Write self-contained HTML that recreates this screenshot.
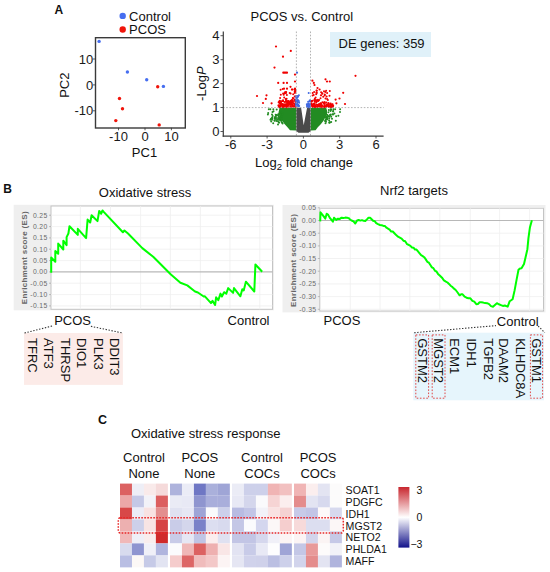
<!DOCTYPE html>
<html><head><meta charset="utf-8"><style>
html,body{margin:0;padding:0;background:#fff;}
body{width:550px;height:572px;overflow:hidden;}
svg{display:block;font-family:"Liberation Sans",sans-serif;}
</style></head><body>
<svg width="550" height="572" viewBox="0 0 550 572" font-family="Liberation Sans, sans-serif" fill="#111">
<text x="54.5" y="13.6" font-size="12" font-weight="bold">A</text>
<circle cx="122.7" cy="15.9" r="3.2" fill="#466ef0"/>
<circle cx="122.7" cy="29.5" r="3.2" fill="#f0140a"/>
<text x="129.1" y="20.6" font-size="13">Control</text>
<text x="129.1" y="34.1" font-size="13">PCOS</text>
<rect x="95.5" y="37.7" width="89.8" height="90.3" fill="none" stroke="#3a3a3a" stroke-width="1.4"/>
<line x1="93" y1="59.0" x2="95.5" y2="59.0" stroke="#333" stroke-width="0.8"/>
<text x="93.2" y="63.6" font-size="13" text-anchor="end" fill="#1a1a1a">10</text>
<line x1="171.4" y1="127.8" x2="171.4" y2="130.3" stroke="#333" stroke-width="0.8"/>
<text x="171.4" y="141.4" font-size="13" text-anchor="middle" fill="#1a1a1a">10</text>
<line x1="93" y1="84.9" x2="95.5" y2="84.9" stroke="#333" stroke-width="0.8"/>
<text x="93.2" y="89.5" font-size="13" text-anchor="end" fill="#1a1a1a">0</text>
<line x1="145.0" y1="127.8" x2="145.0" y2="130.3" stroke="#333" stroke-width="0.8"/>
<text x="145.0" y="141.4" font-size="13" text-anchor="middle" fill="#1a1a1a">0</text>
<line x1="93" y1="110.8" x2="95.5" y2="110.8" stroke="#333" stroke-width="0.8"/>
<text x="93.2" y="115.4" font-size="13" text-anchor="end" fill="#1a1a1a">-10</text>
<line x1="118.5" y1="127.8" x2="118.5" y2="130.3" stroke="#333" stroke-width="0.8"/>
<text x="118.5" y="141.4" font-size="13" text-anchor="middle" fill="#1a1a1a">-10</text>
<text transform="translate(68.9,85.2) rotate(-90)" font-size="13" text-anchor="middle">PC2</text>
<text x="144.5" y="157.4" font-size="13" text-anchor="middle">PC1</text>
<circle cx="99.1" cy="41.4" r="1.7" fill="#466ef0"/>
<circle cx="127.4" cy="72" r="1.7" fill="#466ef0"/>
<circle cx="146.7" cy="79.7" r="1.7" fill="#466ef0"/>
<circle cx="163.4" cy="86.4" r="1.7" fill="#466ef0"/>
<circle cx="157.7" cy="86.8" r="1.7" fill="#f0140a"/>
<circle cx="119.5" cy="98.5" r="1.7" fill="#f0140a"/>
<circle cx="122.5" cy="108.7" r="1.7" fill="#f0140a"/>
<circle cx="115.8" cy="120.6" r="1.7" fill="#f0140a"/>
<circle cx="159.2" cy="124.9" r="1.7" fill="#f0140a"/>
<text x="250.5" y="21.3" font-size="13">PCOS vs. Control</text>
<polygon points="296.2,107.8 301.1,107.8 303.7,125.2 307.1,107.8 310.8,107.8 310.8,131 308.5,132.8 298.5,132.8 296.2,131" fill="#4a4a4a"/>
<polygon points="279.5,107.8 296.2,107.8 296.2,130.4 290,130.3 287.7,127.5 284.5,124 282,120.4 279.8,117 278.7,113.8 279,110.5" fill="#228b22"/>
<polygon points="310.8,107.8 326.2,107.8 327,110.5 327,113.8 325.5,117 323.7,120.4 321,124 318,127 315.6,130.2 310.8,130.4" fill="#228b22"/>
<circle cx="281.1" cy="119.9" r="1" fill="#228b22"/>
<circle cx="281.3" cy="116.4" r="1" fill="#228b22"/>
<circle cx="276.0" cy="116.1" r="1" fill="#228b22"/>
<circle cx="274.7" cy="118.5" r="1" fill="#228b22"/>
<circle cx="275.2" cy="117.9" r="1" fill="#228b22"/>
<circle cx="280.0" cy="118.3" r="1" fill="#228b22"/>
<circle cx="270.5" cy="119.7" r="1" fill="#228b22"/>
<circle cx="279.2" cy="119.5" r="1" fill="#228b22"/>
<circle cx="270.3" cy="109.2" r="1" fill="#228b22"/>
<circle cx="276.3" cy="115.0" r="1" fill="#228b22"/>
<circle cx="280.7" cy="117.5" r="1" fill="#228b22"/>
<circle cx="279.1" cy="114.7" r="1" fill="#228b22"/>
<circle cx="280.7" cy="119.3" r="1" fill="#228b22"/>
<circle cx="278.0" cy="124.5" r="1" fill="#228b22"/>
<circle cx="278.8" cy="122.4" r="1" fill="#228b22"/>
<circle cx="278.3" cy="114.2" r="1" fill="#228b22"/>
<circle cx="280.4" cy="117.2" r="1" fill="#228b22"/>
<circle cx="278.3" cy="118.3" r="1" fill="#228b22"/>
<circle cx="279.6" cy="113.5" r="1" fill="#228b22"/>
<circle cx="279.1" cy="122.5" r="1" fill="#228b22"/>
<circle cx="276.9" cy="118.1" r="1" fill="#228b22"/>
<circle cx="279.8" cy="111.3" r="1" fill="#228b22"/>
<circle cx="282.6" cy="123.4" r="1" fill="#228b22"/>
<circle cx="267.9" cy="114.4" r="1" fill="#228b22"/>
<circle cx="282.2" cy="114.4" r="1" fill="#228b22"/>
<circle cx="279.3" cy="117.2" r="1" fill="#228b22"/>
<circle cx="272.0" cy="119.8" r="1" fill="#228b22"/>
<circle cx="278.0" cy="121.2" r="1" fill="#228b22"/>
<circle cx="272.2" cy="117.9" r="1" fill="#228b22"/>
<circle cx="282.1" cy="112.4" r="1" fill="#228b22"/>
<circle cx="278.4" cy="114.7" r="1" fill="#228b22"/>
<circle cx="279.6" cy="112.2" r="1" fill="#228b22"/>
<circle cx="275.7" cy="114.7" r="1" fill="#228b22"/>
<circle cx="273.3" cy="109.2" r="1" fill="#228b22"/>
<circle cx="272.1" cy="117.4" r="1" fill="#228b22"/>
<circle cx="272.2" cy="118.8" r="1" fill="#228b22"/>
<circle cx="268.8" cy="109.2" r="1" fill="#228b22"/>
<circle cx="280.3" cy="114.5" r="1" fill="#228b22"/>
<circle cx="274.6" cy="120.8" r="1" fill="#228b22"/>
<circle cx="274.7" cy="117.4" r="1" fill="#228b22"/>
<circle cx="281.2" cy="119.5" r="1" fill="#228b22"/>
<circle cx="271.0" cy="118.8" r="1" fill="#228b22"/>
<circle cx="279.1" cy="119.7" r="1" fill="#228b22"/>
<circle cx="271.2" cy="121.6" r="1" fill="#228b22"/>
<circle cx="275.8" cy="119.1" r="1" fill="#228b22"/>
<circle cx="268.2" cy="113.1" r="1" fill="#228b22"/>
<circle cx="276.7" cy="109.4" r="1" fill="#228b22"/>
<circle cx="281.6" cy="122.1" r="1" fill="#228b22"/>
<circle cx="273.2" cy="123.3" r="1" fill="#228b22"/>
<circle cx="278.9" cy="116.7" r="1" fill="#228b22"/>
<circle cx="280.6" cy="120.4" r="1" fill="#228b22"/>
<circle cx="282.1" cy="122.7" r="1" fill="#228b22"/>
<circle cx="278.0" cy="115.5" r="1" fill="#228b22"/>
<circle cx="275.2" cy="116.9" r="1" fill="#228b22"/>
<circle cx="276.4" cy="121.0" r="1" fill="#228b22"/>
<circle cx="272.0" cy="114.5" r="1" fill="#228b22"/>
<circle cx="272.7" cy="115.9" r="1" fill="#228b22"/>
<circle cx="281.9" cy="116.6" r="1" fill="#228b22"/>
<circle cx="272.5" cy="112.1" r="1" fill="#228b22"/>
<circle cx="273.5" cy="111.3" r="1" fill="#228b22"/>
<circle cx="277.1" cy="119.8" r="1" fill="#228b22"/>
<circle cx="274.5" cy="120.3" r="1" fill="#228b22"/>
<circle cx="280.4" cy="118.2" r="1" fill="#228b22"/>
<circle cx="281.9" cy="120.2" r="1" fill="#228b22"/>
<circle cx="281.7" cy="119.0" r="1" fill="#228b22"/>
<circle cx="328.1" cy="116.4" r="1" fill="#228b22"/>
<circle cx="329.2" cy="118.5" r="1" fill="#228b22"/>
<circle cx="336.1" cy="116.2" r="1" fill="#228b22"/>
<circle cx="327.4" cy="115.0" r="1" fill="#228b22"/>
<circle cx="325.1" cy="120.9" r="1" fill="#228b22"/>
<circle cx="326.9" cy="118.3" r="1" fill="#228b22"/>
<circle cx="335.1" cy="109.2" r="1" fill="#228b22"/>
<circle cx="331.2" cy="116.8" r="1" fill="#228b22"/>
<circle cx="327.2" cy="117.6" r="1" fill="#228b22"/>
<circle cx="327.4" cy="119.3" r="1" fill="#228b22"/>
<circle cx="326.6" cy="114.5" r="1" fill="#228b22"/>
<circle cx="338.4" cy="115.8" r="1" fill="#228b22"/>
<circle cx="328.0" cy="116.0" r="1" fill="#228b22"/>
<circle cx="326.2" cy="116.5" r="1" fill="#228b22"/>
<circle cx="340.0" cy="112.0" r="1" fill="#228b22"/>
<circle cx="330.5" cy="111.0" r="1" fill="#228b22"/>
<circle cx="325.4" cy="120.9" r="1" fill="#228b22"/>
<circle cx="329.7" cy="122.3" r="1" fill="#228b22"/>
<circle cx="334.4" cy="113.6" r="1" fill="#228b22"/>
<circle cx="326.9" cy="119.2" r="1" fill="#228b22"/>
<circle cx="331.0" cy="109.2" r="1" fill="#228b22"/>
<circle cx="331.0" cy="109.7" r="1" fill="#228b22"/>
<circle cx="328.8" cy="110.0" r="1" fill="#228b22"/>
<circle cx="326.0" cy="121.8" r="1" fill="#228b22"/>
<circle cx="325.8" cy="117.6" r="1" fill="#228b22"/>
<circle cx="329.4" cy="116.7" r="1" fill="#228b22"/>
<circle cx="325.5" cy="123.3" r="1" fill="#228b22"/>
<circle cx="330.8" cy="114.6" r="1" fill="#228b22"/>
<circle cx="340.1" cy="109.2" r="1" fill="#228b22"/>
<circle cx="330.0" cy="114.9" r="1" fill="#228b22"/>
<circle cx="325.7" cy="119.8" r="1" fill="#228b22"/>
<circle cx="326.2" cy="119.4" r="1" fill="#228b22"/>
<circle cx="333.4" cy="109.2" r="1" fill="#228b22"/>
<circle cx="328.4" cy="112.3" r="1" fill="#228b22"/>
<circle cx="330.6" cy="109.7" r="1" fill="#228b22"/>
<circle cx="332.0" cy="118.7" r="1" fill="#228b22"/>
<circle cx="333.1" cy="111.4" r="1" fill="#228b22"/>
<circle cx="325.0" cy="112.2" r="1" fill="#228b22"/>
<circle cx="329.2" cy="122.8" r="1" fill="#228b22"/>
<circle cx="329.9" cy="122.6" r="1" fill="#228b22"/>
<circle cx="330.4" cy="115.2" r="1" fill="#228b22"/>
<circle cx="335.8" cy="120.7" r="1" fill="#228b22"/>
<circle cx="325.5" cy="114.4" r="1" fill="#228b22"/>
<circle cx="327.2" cy="118.3" r="1" fill="#228b22"/>
<circle cx="333.2" cy="111.1" r="1" fill="#228b22"/>
<circle cx="331.2" cy="122.0" r="1" fill="#228b22"/>
<circle cx="333.0" cy="114.6" r="1" fill="#228b22"/>
<circle cx="329.1" cy="120.5" r="1" fill="#228b22"/>
<circle cx="325.6" cy="117.4" r="1" fill="#228b22"/>
<circle cx="332.8" cy="114.3" r="1" fill="#228b22"/>
<circle cx="287.8" cy="101.3" r="1" fill="#f00000"/>
<circle cx="286.1" cy="101.8" r="1" fill="#f00000"/>
<circle cx="293.0" cy="106.3" r="1" fill="#f00000"/>
<circle cx="282.9" cy="105.9" r="1" fill="#f00000"/>
<circle cx="282.7" cy="104.0" r="1" fill="#f00000"/>
<circle cx="283.1" cy="105.1" r="1" fill="#f00000"/>
<circle cx="280.8" cy="101.4" r="1" fill="#f00000"/>
<circle cx="284.7" cy="104.8" r="1" fill="#f00000"/>
<circle cx="288.8" cy="101.5" r="1" fill="#f00000"/>
<circle cx="285.9" cy="101.4" r="1" fill="#f00000"/>
<circle cx="287.3" cy="104.3" r="1" fill="#f00000"/>
<circle cx="287.7" cy="107.2" r="1" fill="#f00000"/>
<circle cx="286.2" cy="106.5" r="1" fill="#f00000"/>
<circle cx="278.6" cy="102.3" r="1" fill="#f00000"/>
<circle cx="281.5" cy="104.7" r="1" fill="#f00000"/>
<circle cx="291.3" cy="104.2" r="1" fill="#f00000"/>
<circle cx="284.2" cy="104.4" r="1" fill="#f00000"/>
<circle cx="288.3" cy="102.5" r="1" fill="#f00000"/>
<circle cx="280.4" cy="104.1" r="1" fill="#f00000"/>
<circle cx="282.9" cy="106.0" r="1" fill="#f00000"/>
<circle cx="292.1" cy="104.5" r="1" fill="#f00000"/>
<circle cx="288.4" cy="102.7" r="1" fill="#f00000"/>
<circle cx="294.6" cy="104.9" r="1" fill="#f00000"/>
<circle cx="289.3" cy="104.5" r="1" fill="#f00000"/>
<circle cx="287.5" cy="103.2" r="1" fill="#f00000"/>
<circle cx="286.5" cy="104.3" r="1" fill="#f00000"/>
<circle cx="286.9" cy="101.2" r="1" fill="#f00000"/>
<circle cx="290.8" cy="101.7" r="1" fill="#f00000"/>
<circle cx="295.1" cy="106.1" r="1" fill="#f00000"/>
<circle cx="288.3" cy="101.2" r="1" fill="#f00000"/>
<circle cx="293.3" cy="106.7" r="1" fill="#f00000"/>
<circle cx="280.6" cy="105.0" r="1" fill="#f00000"/>
<circle cx="279.8" cy="106.2" r="1" fill="#f00000"/>
<circle cx="279.8" cy="103.3" r="1" fill="#f00000"/>
<circle cx="292.3" cy="101.6" r="1" fill="#f00000"/>
<circle cx="281.2" cy="103.0" r="1" fill="#f00000"/>
<circle cx="290.1" cy="106.7" r="1" fill="#f00000"/>
<circle cx="294.0" cy="101.0" r="1" fill="#f00000"/>
<circle cx="282.4" cy="101.1" r="1" fill="#f00000"/>
<circle cx="285.5" cy="104.6" r="1" fill="#f00000"/>
<circle cx="295.9" cy="102.1" r="1" fill="#f00000"/>
<circle cx="281.3" cy="105.0" r="1" fill="#f00000"/>
<circle cx="287.6" cy="105.6" r="1" fill="#f00000"/>
<circle cx="281.9" cy="105.7" r="1" fill="#f00000"/>
<circle cx="291.2" cy="107.2" r="1" fill="#f00000"/>
<circle cx="288.3" cy="105.0" r="1" fill="#f00000"/>
<circle cx="278.8" cy="105.7" r="1" fill="#f00000"/>
<circle cx="289.5" cy="104.5" r="1" fill="#f00000"/>
<circle cx="279.6" cy="100.8" r="1" fill="#f00000"/>
<circle cx="292.4" cy="100.9" r="1" fill="#f00000"/>
<circle cx="280.3" cy="106.0" r="1" fill="#f00000"/>
<circle cx="279.2" cy="102.5" r="1" fill="#f00000"/>
<circle cx="283.3" cy="106.7" r="1" fill="#f00000"/>
<circle cx="285.9" cy="101.4" r="1" fill="#f00000"/>
<circle cx="292.9" cy="106.1" r="1" fill="#f00000"/>
<circle cx="281.1" cy="101.4" r="1" fill="#f00000"/>
<circle cx="288.5" cy="103.1" r="1" fill="#f00000"/>
<circle cx="280.1" cy="107.0" r="1" fill="#f00000"/>
<circle cx="290.6" cy="105.1" r="1" fill="#f00000"/>
<circle cx="279.8" cy="101.2" r="1" fill="#f00000"/>
<circle cx="289.7" cy="102.3" r="1" fill="#f00000"/>
<circle cx="280.0" cy="101.9" r="1" fill="#f00000"/>
<circle cx="279.7" cy="101.8" r="1" fill="#f00000"/>
<circle cx="286.5" cy="105.6" r="1" fill="#f00000"/>
<circle cx="288.2" cy="101.3" r="1" fill="#f00000"/>
<circle cx="283.2" cy="106.7" r="1" fill="#f00000"/>
<circle cx="287.8" cy="106.2" r="1" fill="#f00000"/>
<circle cx="280.4" cy="106.6" r="1" fill="#f00000"/>
<circle cx="279.4" cy="106.4" r="1" fill="#f00000"/>
<circle cx="284.0" cy="105.8" r="1" fill="#f00000"/>
<circle cx="291.9" cy="105.9" r="1" fill="#f00000"/>
<circle cx="287.3" cy="106.5" r="1" fill="#f00000"/>
<circle cx="284.6" cy="107.2" r="1" fill="#f00000"/>
<circle cx="282.9" cy="107.2" r="1" fill="#f00000"/>
<circle cx="291.4" cy="104.2" r="1" fill="#f00000"/>
<circle cx="281.8" cy="104.7" r="1" fill="#f00000"/>
<circle cx="294.9" cy="106.8" r="1" fill="#f00000"/>
<circle cx="292.9" cy="105.0" r="1" fill="#f00000"/>
<circle cx="287.2" cy="102.1" r="1" fill="#f00000"/>
<circle cx="285.4" cy="104.5" r="1" fill="#f00000"/>
<circle cx="290.6" cy="100.8" r="1" fill="#f00000"/>
<circle cx="284.5" cy="102.1" r="1" fill="#f00000"/>
<circle cx="290.9" cy="103.6" r="1" fill="#f00000"/>
<circle cx="285.6" cy="105.6" r="1" fill="#f00000"/>
<circle cx="279.5" cy="106.7" r="1" fill="#f00000"/>
<circle cx="279.7" cy="102.8" r="1" fill="#f00000"/>
<circle cx="283.0" cy="106.6" r="1" fill="#f00000"/>
<circle cx="280.0" cy="102.0" r="1" fill="#f00000"/>
<circle cx="293.8" cy="103.3" r="1" fill="#f00000"/>
<circle cx="283.5" cy="106.2" r="1" fill="#f00000"/>
<circle cx="283.7" cy="104.8" r="1" fill="#f00000"/>
<circle cx="281.3" cy="104.9" r="1" fill="#f00000"/>
<circle cx="283.1" cy="101.0" r="1" fill="#f00000"/>
<circle cx="295.6" cy="104.2" r="1" fill="#f00000"/>
<circle cx="282.8" cy="101.0" r="1" fill="#f00000"/>
<circle cx="283.9" cy="105.5" r="1" fill="#f00000"/>
<circle cx="278.5" cy="105.3" r="1" fill="#f00000"/>
<circle cx="286.9" cy="104.5" r="1" fill="#f00000"/>
<circle cx="282.0" cy="104.5" r="1" fill="#f00000"/>
<circle cx="278.6" cy="106.0" r="1" fill="#f00000"/>
<circle cx="280.1" cy="105.2" r="1" fill="#f00000"/>
<circle cx="279.2" cy="107.2" r="1" fill="#f00000"/>
<circle cx="283.9" cy="106.2" r="1" fill="#f00000"/>
<circle cx="288.8" cy="104.4" r="1" fill="#f00000"/>
<circle cx="291.7" cy="103.4" r="1" fill="#f00000"/>
<circle cx="291.1" cy="101.7" r="1" fill="#f00000"/>
<circle cx="285.4" cy="105.7" r="1" fill="#f00000"/>
<circle cx="295.8" cy="106.7" r="1" fill="#f00000"/>
<circle cx="291.2" cy="103.5" r="1" fill="#f00000"/>
<circle cx="279.3" cy="102.1" r="1" fill="#f00000"/>
<circle cx="294.2" cy="103.7" r="1" fill="#f00000"/>
<circle cx="291.4" cy="102.2" r="1" fill="#f00000"/>
<circle cx="281.0" cy="104.4" r="1" fill="#f00000"/>
<circle cx="287.4" cy="102.1" r="1" fill="#f00000"/>
<circle cx="292.7" cy="102.1" r="1" fill="#f00000"/>
<circle cx="288.8" cy="101.6" r="1" fill="#f00000"/>
<circle cx="290.5" cy="103.2" r="1" fill="#f00000"/>
<circle cx="282.5" cy="107.1" r="1" fill="#f00000"/>
<circle cx="280.8" cy="105.5" r="1" fill="#f00000"/>
<circle cx="280.3" cy="102.1" r="1" fill="#f00000"/>
<circle cx="288.3" cy="103.7" r="1" fill="#f00000"/>
<circle cx="289.5" cy="103.3" r="1" fill="#f00000"/>
<circle cx="287.1" cy="107.2" r="1" fill="#f00000"/>
<circle cx="292.5" cy="102.7" r="1" fill="#f00000"/>
<circle cx="287.4" cy="104.3" r="1" fill="#f00000"/>
<circle cx="324.5" cy="107.0" r="1" fill="#f00000"/>
<circle cx="326.4" cy="106.4" r="1" fill="#f00000"/>
<circle cx="312.2" cy="105.7" r="1" fill="#f00000"/>
<circle cx="326.3" cy="106.6" r="1" fill="#f00000"/>
<circle cx="326.5" cy="102.6" r="1" fill="#f00000"/>
<circle cx="320.6" cy="105.4" r="1" fill="#f00000"/>
<circle cx="320.3" cy="103.4" r="1" fill="#f00000"/>
<circle cx="327.2" cy="104.8" r="1" fill="#f00000"/>
<circle cx="324.1" cy="107.0" r="1" fill="#f00000"/>
<circle cx="313.4" cy="105.8" r="1" fill="#f00000"/>
<circle cx="326.6" cy="106.2" r="1" fill="#f00000"/>
<circle cx="322.4" cy="107.2" r="1" fill="#f00000"/>
<circle cx="312.0" cy="105.7" r="1" fill="#f00000"/>
<circle cx="324.9" cy="104.0" r="1" fill="#f00000"/>
<circle cx="324.9" cy="106.2" r="1" fill="#f00000"/>
<circle cx="321.2" cy="105.0" r="1" fill="#f00000"/>
<circle cx="320.0" cy="106.8" r="1" fill="#f00000"/>
<circle cx="330.4" cy="106.7" r="1" fill="#f00000"/>
<circle cx="332.6" cy="104.2" r="1" fill="#f00000"/>
<circle cx="311.4" cy="104.1" r="1" fill="#f00000"/>
<circle cx="328.5" cy="103.1" r="1" fill="#f00000"/>
<circle cx="319.6" cy="106.0" r="1" fill="#f00000"/>
<circle cx="314.6" cy="100.0" r="1" fill="#f00000"/>
<circle cx="314.6" cy="103.4" r="1" fill="#f00000"/>
<circle cx="313.3" cy="103.7" r="1" fill="#f00000"/>
<circle cx="332.0" cy="107.0" r="1" fill="#f00000"/>
<circle cx="328.5" cy="105.4" r="1" fill="#f00000"/>
<circle cx="330.2" cy="104.8" r="1" fill="#f00000"/>
<circle cx="315.0" cy="100.6" r="1" fill="#f00000"/>
<circle cx="320.5" cy="107.1" r="1" fill="#f00000"/>
<circle cx="311.2" cy="103.8" r="1" fill="#f00000"/>
<circle cx="319.7" cy="105.8" r="1" fill="#f00000"/>
<circle cx="313.3" cy="105.2" r="1" fill="#f00000"/>
<circle cx="316.7" cy="101.5" r="1" fill="#f00000"/>
<circle cx="311.2" cy="101.3" r="1" fill="#f00000"/>
<circle cx="329.0" cy="106.9" r="1" fill="#f00000"/>
<circle cx="331.3" cy="104.9" r="1" fill="#f00000"/>
<circle cx="330.6" cy="106.5" r="1" fill="#f00000"/>
<circle cx="317.9" cy="105.2" r="1" fill="#f00000"/>
<circle cx="333.2" cy="105.7" r="1" fill="#f00000"/>
<circle cx="317.7" cy="104.9" r="1" fill="#f00000"/>
<circle cx="315.9" cy="107.1" r="1" fill="#f00000"/>
<circle cx="312.6" cy="100.7" r="1" fill="#f00000"/>
<circle cx="316.1" cy="100.5" r="1" fill="#f00000"/>
<circle cx="315.4" cy="105.9" r="1" fill="#f00000"/>
<circle cx="321.0" cy="106.5" r="1" fill="#f00000"/>
<circle cx="317.9" cy="100.7" r="1" fill="#f00000"/>
<circle cx="330.2" cy="104.3" r="1" fill="#f00000"/>
<circle cx="323.9" cy="102.4" r="1" fill="#f00000"/>
<circle cx="331.6" cy="105.6" r="1" fill="#f00000"/>
<circle cx="326.0" cy="107.1" r="1" fill="#f00000"/>
<circle cx="326.3" cy="105.5" r="1" fill="#f00000"/>
<circle cx="326.8" cy="104.6" r="1" fill="#f00000"/>
<circle cx="316.1" cy="107.1" r="1" fill="#f00000"/>
<circle cx="331.3" cy="107.0" r="1" fill="#f00000"/>
<circle cx="320.1" cy="105.6" r="1" fill="#f00000"/>
<circle cx="316.3" cy="102.3" r="1" fill="#f00000"/>
<circle cx="332.6" cy="106.6" r="1" fill="#f00000"/>
<circle cx="324.5" cy="106.1" r="1" fill="#f00000"/>
<circle cx="322.1" cy="105.5" r="1" fill="#f00000"/>
<circle cx="313.8" cy="106.5" r="1" fill="#f00000"/>
<circle cx="314.5" cy="100.4" r="1" fill="#f00000"/>
<circle cx="320.7" cy="106.3" r="1" fill="#f00000"/>
<circle cx="330.7" cy="103.5" r="1" fill="#f00000"/>
<circle cx="319.6" cy="106.7" r="1" fill="#f00000"/>
<circle cx="314.2" cy="106.9" r="1" fill="#f00000"/>
<circle cx="317.3" cy="106.9" r="1" fill="#f00000"/>
<circle cx="315.2" cy="105.9" r="1" fill="#f00000"/>
<circle cx="322.4" cy="102.3" r="1" fill="#f00000"/>
<circle cx="326.8" cy="105.7" r="1" fill="#f00000"/>
<circle cx="318.8" cy="104.3" r="1" fill="#f00000"/>
<circle cx="318.0" cy="105.5" r="1" fill="#f00000"/>
<circle cx="312.0" cy="105.6" r="1" fill="#f00000"/>
<circle cx="332.3" cy="107.0" r="1" fill="#f00000"/>
<circle cx="320.9" cy="103.8" r="1" fill="#f00000"/>
<circle cx="329.6" cy="106.7" r="1" fill="#f00000"/>
<circle cx="315.8" cy="106.0" r="1" fill="#f00000"/>
<circle cx="318.5" cy="104.8" r="1" fill="#f00000"/>
<circle cx="332.0" cy="104.5" r="1" fill="#f00000"/>
<circle cx="329.9" cy="107.2" r="1" fill="#f00000"/>
<circle cx="311.6" cy="101.8" r="1" fill="#f00000"/>
<circle cx="330.5" cy="105.8" r="1" fill="#f00000"/>
<circle cx="322.8" cy="107.2" r="1" fill="#f00000"/>
<circle cx="318.3" cy="101.0" r="1" fill="#f00000"/>
<circle cx="328.7" cy="103.8" r="1" fill="#f00000"/>
<circle cx="332.5" cy="106.7" r="1" fill="#f00000"/>
<circle cx="312.7" cy="106.5" r="1" fill="#f00000"/>
<circle cx="321.3" cy="103.5" r="1" fill="#f00000"/>
<circle cx="331.7" cy="104.9" r="1" fill="#f00000"/>
<circle cx="324.3" cy="103.5" r="1" fill="#f00000"/>
<circle cx="319.8" cy="104.2" r="1" fill="#f00000"/>
<circle cx="311.7" cy="101.1" r="1" fill="#f00000"/>
<circle cx="315.0" cy="100.4" r="1" fill="#f00000"/>
<circle cx="324.2" cy="106.1" r="1" fill="#f00000"/>
<circle cx="313.1" cy="105.9" r="1" fill="#f00000"/>
<circle cx="324.0" cy="103.8" r="1" fill="#f00000"/>
<circle cx="312.8" cy="106.9" r="1" fill="#f00000"/>
<circle cx="321.3" cy="104.2" r="1" fill="#f00000"/>
<circle cx="318.3" cy="106.2" r="1" fill="#f00000"/>
<circle cx="323.1" cy="107.2" r="1" fill="#f00000"/>
<circle cx="316.4" cy="104.5" r="1" fill="#f00000"/>
<circle cx="332.1" cy="105.3" r="1" fill="#f00000"/>
<circle cx="330.2" cy="105.7" r="1" fill="#f00000"/>
<circle cx="315.1" cy="106.0" r="1" fill="#f00000"/>
<circle cx="332.2" cy="105.1" r="1" fill="#f00000"/>
<circle cx="316.5" cy="107.1" r="1" fill="#f00000"/>
<circle cx="320.7" cy="103.5" r="1" fill="#f00000"/>
<circle cx="319.0" cy="106.1" r="1" fill="#f00000"/>
<circle cx="324.7" cy="102.5" r="1" fill="#f00000"/>
<circle cx="314.9" cy="107.1" r="1" fill="#f00000"/>
<circle cx="317.2" cy="104.9" r="1" fill="#f00000"/>
<circle cx="325.1" cy="106.6" r="1" fill="#f00000"/>
<circle cx="328.0" cy="104.2" r="1" fill="#f00000"/>
<circle cx="320.9" cy="106.4" r="1" fill="#f00000"/>
<circle cx="332.4" cy="106.5" r="1" fill="#f00000"/>
<circle cx="328.5" cy="106.6" r="1" fill="#f00000"/>
<circle cx="314.8" cy="101.8" r="1" fill="#f00000"/>
<circle cx="316.3" cy="100.3" r="1" fill="#f00000"/>
<circle cx="320.7" cy="106.5" r="1" fill="#f00000"/>
<circle cx="314.8" cy="104.7" r="1" fill="#f00000"/>
<circle cx="324.7" cy="102.3" r="1" fill="#f00000"/>
<circle cx="313.4" cy="104.8" r="1" fill="#f00000"/>
<circle cx="314.6" cy="99.7" r="1" fill="#f00000"/>
<circle cx="313.3" cy="107.0" r="1" fill="#f00000"/>
<circle cx="312.0" cy="104.7" r="1" fill="#f00000"/>
<circle cx="294.4" cy="99.6" r="1" fill="#f00000"/>
<circle cx="291.7" cy="101.0" r="1" fill="#f00000"/>
<circle cx="294.9" cy="93.0" r="1" fill="#f00000"/>
<circle cx="283.0" cy="100.2" r="1" fill="#f00000"/>
<circle cx="291.9" cy="89.4" r="1" fill="#f00000"/>
<circle cx="290.6" cy="93.5" r="1" fill="#f00000"/>
<circle cx="286.0" cy="93.0" r="1" fill="#f00000"/>
<circle cx="282.7" cy="89.0" r="1" fill="#f00000"/>
<circle cx="284.5" cy="93.2" r="1" fill="#f00000"/>
<circle cx="295.3" cy="90.5" r="1" fill="#f00000"/>
<circle cx="295.4" cy="91.5" r="1" fill="#f00000"/>
<circle cx="285.7" cy="98.9" r="1" fill="#f00000"/>
<circle cx="293.2" cy="94.2" r="1" fill="#f00000"/>
<circle cx="280.8" cy="94.7" r="1" fill="#f00000"/>
<circle cx="286.0" cy="100.0" r="1" fill="#f00000"/>
<circle cx="283.1" cy="93.4" r="1" fill="#f00000"/>
<circle cx="294.4" cy="89.4" r="1" fill="#f00000"/>
<circle cx="286.6" cy="98.7" r="1" fill="#f00000"/>
<circle cx="292.3" cy="89.5" r="1" fill="#f00000"/>
<circle cx="280.6" cy="89.8" r="1" fill="#f00000"/>
<circle cx="294.7" cy="92.1" r="1" fill="#f00000"/>
<circle cx="292.0" cy="99.8" r="1" fill="#f00000"/>
<circle cx="285.4" cy="92.3" r="1" fill="#f00000"/>
<circle cx="295.3" cy="96.4" r="1" fill="#f00000"/>
<circle cx="284.2" cy="97.6" r="1" fill="#f00000"/>
<circle cx="285.1" cy="92.3" r="1" fill="#f00000"/>
<circle cx="280.1" cy="98.1" r="1" fill="#f00000"/>
<circle cx="294.7" cy="96.6" r="1" fill="#f00000"/>
<circle cx="295.1" cy="89.3" r="1" fill="#f00000"/>
<circle cx="283.7" cy="94.7" r="1" fill="#f00000"/>
<circle cx="295.3" cy="100.4" r="1" fill="#f00000"/>
<circle cx="286.2" cy="92.0" r="1" fill="#f00000"/>
<circle cx="286.9" cy="94.9" r="1" fill="#f00000"/>
<circle cx="294.8" cy="91.2" r="1" fill="#f00000"/>
<circle cx="292.8" cy="97.9" r="1" fill="#f00000"/>
<circle cx="293.2" cy="98.3" r="1" fill="#f00000"/>
<circle cx="289.7" cy="92.9" r="1" fill="#f00000"/>
<circle cx="285.1" cy="93.3" r="1" fill="#f00000"/>
<circle cx="326.1" cy="90.8" r="1" fill="#f00000"/>
<circle cx="315.6" cy="97.5" r="1" fill="#f00000"/>
<circle cx="316.5" cy="90.6" r="1" fill="#f00000"/>
<circle cx="312.6" cy="95.5" r="1" fill="#f00000"/>
<circle cx="317.9" cy="99.8" r="1" fill="#f00000"/>
<circle cx="327.9" cy="99.9" r="1" fill="#f00000"/>
<circle cx="316.8" cy="90.8" r="1" fill="#f00000"/>
<circle cx="313.7" cy="95.0" r="1" fill="#f00000"/>
<circle cx="324.8" cy="94.5" r="1" fill="#f00000"/>
<circle cx="316.2" cy="94.2" r="1" fill="#f00000"/>
<circle cx="323.2" cy="96.7" r="1" fill="#f00000"/>
<circle cx="325.5" cy="98.5" r="1" fill="#f00000"/>
<circle cx="324.0" cy="91.2" r="1" fill="#f00000"/>
<circle cx="327.1" cy="92.9" r="1" fill="#f00000"/>
<circle cx="322.2" cy="93.7" r="1" fill="#f00000"/>
<circle cx="325.3" cy="92.0" r="1" fill="#f00000"/>
<circle cx="316.5" cy="92.5" r="1" fill="#f00000"/>
<circle cx="314.8" cy="98.8" r="1" fill="#f00000"/>
<circle cx="322.4" cy="93.3" r="1" fill="#f00000"/>
<circle cx="319.1" cy="99.9" r="1" fill="#f00000"/>
<circle cx="321.1" cy="92.3" r="1" fill="#f00000"/>
<circle cx="326.6" cy="96.5" r="1" fill="#f00000"/>
<circle cx="329.8" cy="91.0" r="1" fill="#f00000"/>
<circle cx="320.5" cy="98.2" r="1" fill="#f00000"/>
<circle cx="327.1" cy="99.1" r="1" fill="#f00000"/>
<circle cx="312.7" cy="92.9" r="1" fill="#f00000"/>
<circle cx="314.1" cy="91.9" r="1" fill="#f00000"/>
<circle cx="329.5" cy="95.8" r="1" fill="#f00000"/>
<circle cx="276" cy="46.5" r="1.1" fill="#f00000"/>
<circle cx="290.8" cy="50.9" r="1.1" fill="#f00000"/>
<circle cx="283" cy="56.7" r="1.1" fill="#f00000"/>
<circle cx="274.5" cy="67.6" r="1.1" fill="#f00000"/>
<circle cx="283.3" cy="72.7" r="1.1" fill="#f00000"/>
<circle cx="284.5" cy="72.7" r="1.1" fill="#f00000"/>
<circle cx="285.8" cy="72.7" r="1.1" fill="#f00000"/>
<circle cx="287" cy="72.7" r="1.1" fill="#f00000"/>
<circle cx="295" cy="74.6" r="1.1" fill="#f00000"/>
<circle cx="278.2" cy="82.9" r="1.1" fill="#f00000"/>
<circle cx="283.6" cy="82.9" r="1.1" fill="#f00000"/>
<circle cx="287" cy="82.9" r="1.1" fill="#f00000"/>
<circle cx="295" cy="81.5" r="1.1" fill="#f00000"/>
<circle cx="290.5" cy="86.8" r="1.1" fill="#f00000"/>
<circle cx="284" cy="88.7" r="1.1" fill="#f00000"/>
<circle cx="287" cy="88.7" r="1.1" fill="#f00000"/>
<circle cx="295" cy="88.7" r="1.1" fill="#f00000"/>
<circle cx="266.5" cy="95.3" r="1.1" fill="#f00000"/>
<circle cx="265.8" cy="98.9" r="1.1" fill="#f00000"/>
<circle cx="271.6" cy="103.3" r="1.1" fill="#f00000"/>
<circle cx="312.4" cy="80.7" r="1.1" fill="#f00000"/>
<circle cx="313.8" cy="82.9" r="1.1" fill="#f00000"/>
<circle cx="325.5" cy="79.3" r="1.1" fill="#f00000"/>
<circle cx="327" cy="81.5" r="1.1" fill="#f00000"/>
<circle cx="329.8" cy="81.5" r="1.1" fill="#f00000"/>
<circle cx="314.5" cy="85" r="1.1" fill="#f00000"/>
<circle cx="317.5" cy="88" r="1.1" fill="#f00000"/>
<circle cx="319.6" cy="89.5" r="1.1" fill="#f00000"/>
<circle cx="316.7" cy="93" r="1.1" fill="#f00000"/>
<circle cx="321" cy="95.3" r="1.1" fill="#f00000"/>
<circle cx="324.7" cy="95.3" r="1.1" fill="#f00000"/>
<circle cx="335.6" cy="99.6" r="1.1" fill="#f00000"/>
<circle cx="336.4" cy="103.3" r="1.1" fill="#f00000"/>
<circle cx="355.5" cy="75.8" r="1.1" fill="#f00000"/>
<circle cx="343.2" cy="92.8" r="1.1" fill="#f00000"/>
<circle cx="339.5" cy="98.5" r="1.1" fill="#f00000"/>
<circle cx="257" cy="96" r="1.1" fill="#f00000"/>
<circle cx="263" cy="103" r="1.1" fill="#f00000"/>
<circle cx="345" cy="104" r="1.1" fill="#f00000"/>
<circle cx="299.1" cy="102.8" r="1" fill="#4169e1"/>
<circle cx="298.9" cy="101.9" r="1" fill="#4169e1"/>
<circle cx="296.7" cy="98.0" r="1" fill="#4169e1"/>
<circle cx="299.2" cy="106.0" r="1" fill="#4169e1"/>
<circle cx="297.9" cy="99.9" r="1" fill="#4169e1"/>
<circle cx="296.6" cy="102.9" r="1" fill="#4169e1"/>
<circle cx="296.3" cy="104.9" r="1" fill="#4169e1"/>
<circle cx="296.7" cy="100.1" r="1" fill="#4169e1"/>
<circle cx="298.1" cy="104.9" r="1" fill="#4169e1"/>
<circle cx="295.8" cy="103.4" r="1" fill="#4169e1"/>
<circle cx="298.2" cy="105.1" r="1" fill="#4169e1"/>
<circle cx="296.9" cy="104.9" r="1" fill="#4169e1"/>
<circle cx="298.7" cy="100.7" r="1" fill="#4169e1"/>
<circle cx="296.0" cy="106.1" r="1" fill="#4169e1"/>
<circle cx="297.2" cy="100.7" r="1" fill="#4169e1"/>
<circle cx="298.1" cy="106.2" r="1" fill="#4169e1"/>
<circle cx="296.4" cy="99.0" r="1" fill="#4169e1"/>
<circle cx="297.3" cy="103.9" r="1" fill="#4169e1"/>
<circle cx="296.9" cy="95.9" r="1" fill="#4169e1"/>
<circle cx="296.9" cy="100.5" r="1" fill="#4169e1"/>
<circle cx="297.1" cy="102.3" r="1" fill="#4169e1"/>
<circle cx="298.9" cy="95.3" r="1" fill="#4169e1"/>
<circle cx="297.1" cy="104.9" r="1" fill="#4169e1"/>
<circle cx="298.4" cy="104.9" r="1" fill="#4169e1"/>
<circle cx="295.8" cy="96.5" r="1" fill="#4169e1"/>
<circle cx="297.3" cy="97.5" r="1" fill="#4169e1"/>
<circle cx="297.3" cy="96.7" r="1" fill="#4169e1"/>
<circle cx="297.5" cy="105.3" r="1" fill="#4169e1"/>
<circle cx="295.9" cy="100.7" r="1" fill="#4169e1"/>
<circle cx="298.1" cy="96.4" r="1" fill="#4169e1"/>
<circle cx="296.1" cy="99.8" r="1" fill="#4169e1"/>
<circle cx="297.1" cy="101.2" r="1" fill="#4169e1"/>
<circle cx="296.3" cy="103.9" r="1" fill="#4169e1"/>
<circle cx="297.7" cy="96.2" r="1" fill="#4169e1"/>
<circle cx="307.0" cy="104.9" r="1" fill="#4169e1"/>
<circle cx="309.7" cy="100.6" r="1" fill="#4169e1"/>
<circle cx="307.3" cy="107.0" r="1" fill="#4169e1"/>
<circle cx="310.2" cy="100.6" r="1" fill="#4169e1"/>
<circle cx="308.4" cy="107.2" r="1" fill="#4169e1"/>
<circle cx="310.1" cy="105.6" r="1" fill="#4169e1"/>
<circle cx="310.0" cy="103.9" r="1" fill="#4169e1"/>
<circle cx="309.7" cy="106.9" r="1" fill="#4169e1"/>
<circle cx="309.6" cy="106.6" r="1" fill="#4169e1"/>
<circle cx="308.1" cy="101.8" r="1" fill="#4169e1"/>
<circle cx="309.8" cy="106.8" r="1" fill="#4169e1"/>
<circle cx="307.4" cy="105.5" r="1" fill="#4169e1"/>
<circle cx="308.6" cy="105.6" r="1" fill="#4169e1"/>
<circle cx="307.1" cy="106.4" r="1" fill="#4169e1"/>
<circle cx="309.4" cy="101.4" r="1" fill="#4169e1"/>
<circle cx="306.8" cy="104.3" r="1" fill="#4169e1"/>
<circle cx="309.5" cy="107.2" r="1" fill="#4169e1"/>
<circle cx="309.8" cy="107.0" r="1" fill="#4169e1"/>
<circle cx="308.9" cy="104.4" r="1" fill="#4169e1"/>
<circle cx="309.0" cy="106.1" r="1" fill="#4169e1"/>
<circle cx="308.2" cy="104.2" r="1" fill="#4169e1"/>
<circle cx="308.2" cy="103.6" r="1" fill="#4169e1"/>
<circle cx="297" cy="72.7" r="1.1" fill="#4169e1"/><circle cx="308.7" cy="93" r="1" fill="#4169e1"/>
<line x1="296.4" y1="31.5" x2="296.4" y2="136" stroke="#a0a0a0" stroke-width="0.8" stroke-dasharray="1.6,1.6"/>
<line x1="310.5" y1="31.5" x2="310.5" y2="136" stroke="#a0a0a0" stroke-width="0.8" stroke-dasharray="1.6,1.6"/>
<line x1="223" y1="107.6" x2="383.6" y2="107.6" stroke="#a0a0a0" stroke-width="0.8" stroke-dasharray="1.6,1.6"/>
<line x1="223.3" y1="31.5" x2="223.3" y2="136.8" stroke="#3a3a3a" stroke-width="1.2"/>
<line x1="222.7" y1="136.2" x2="383.6" y2="136.2" stroke="#3a3a3a" stroke-width="1.2"/>
<line x1="220.5" y1="131.5" x2="223" y2="131.5" stroke="#333" stroke-width="0.8"/>
<text x="219.6" y="136.1" font-size="13" text-anchor="end" fill="#1a1a1a">0</text>
<line x1="220.5" y1="107.5" x2="223" y2="107.5" stroke="#333" stroke-width="0.8"/>
<text x="219.6" y="112.1" font-size="13" text-anchor="end" fill="#1a1a1a">1</text>
<line x1="220.5" y1="83.6" x2="223" y2="83.6" stroke="#333" stroke-width="0.8"/>
<text x="219.6" y="88.2" font-size="13" text-anchor="end" fill="#1a1a1a">2</text>
<line x1="220.5" y1="59.7" x2="223" y2="59.7" stroke="#333" stroke-width="0.8"/>
<text x="219.6" y="64.2" font-size="13" text-anchor="end" fill="#1a1a1a">3</text>
<line x1="220.5" y1="35.7" x2="223" y2="35.7" stroke="#333" stroke-width="0.8"/>
<text x="219.6" y="40.3" font-size="13" text-anchor="end" fill="#1a1a1a">4</text>
<line x1="230.8" y1="136" x2="230.8" y2="138.5" stroke="#333" stroke-width="0.8"/>
<text x="230.8" y="149.4" font-size="13" text-anchor="middle" fill="#1a1a1a">-6</text>
<line x1="267.1" y1="136" x2="267.1" y2="138.5" stroke="#333" stroke-width="0.8"/>
<text x="267.1" y="149.4" font-size="13" text-anchor="middle" fill="#1a1a1a">-3</text>
<line x1="303.4" y1="136" x2="303.4" y2="138.5" stroke="#333" stroke-width="0.8"/>
<text x="303.4" y="149.4" font-size="13" text-anchor="middle" fill="#1a1a1a">0</text>
<line x1="339.7" y1="136" x2="339.7" y2="138.5" stroke="#333" stroke-width="0.8"/>
<text x="339.7" y="149.4" font-size="13" text-anchor="middle" fill="#1a1a1a">3</text>
<line x1="376.0" y1="136" x2="376.0" y2="138.5" stroke="#333" stroke-width="0.8"/>
<text x="376.0" y="149.4" font-size="13" text-anchor="middle" fill="#1a1a1a">6</text>
<text transform="translate(205.9,83.6) rotate(-90)" font-size="13" text-anchor="middle">-Log<tspan font-style="italic">P</tspan></text>
<text x="304" y="167" font-size="13" text-anchor="middle">Log<tspan font-size="9.5" dy="3">2</tspan><tspan dy="-3"> fold change</tspan></text>
<rect x="330" y="32" width="101" height="25" fill="#e0f1f9"/>
<text x="338.6" y="47.6" font-size="13">DE genes: 359</text>
<text x="3.2" y="192.8" font-size="12" font-weight="bold">B</text>
<rect x="13.7" y="204.8" width="260.3" height="105.5" fill="#efefef"/>
<rect x="51" y="206" width="221.5" height="103.30000000000001" fill="#fff" stroke="#c4c4c4" stroke-width="1"/>
<line x1="51" y1="215.2" x2="272.5" y2="215.2" stroke="#efefef" stroke-width="0.8"/>
<line x1="51" y1="226.6" x2="272.5" y2="226.6" stroke="#efefef" stroke-width="0.8"/>
<line x1="51" y1="237.9" x2="272.5" y2="237.9" stroke="#efefef" stroke-width="0.8"/>
<line x1="51" y1="249.2" x2="272.5" y2="249.2" stroke="#efefef" stroke-width="0.8"/>
<line x1="51" y1="260.6" x2="272.5" y2="260.6" stroke="#efefef" stroke-width="0.8"/>
<line x1="51" y1="283.2" x2="272.5" y2="283.2" stroke="#efefef" stroke-width="0.8"/>
<line x1="51" y1="294.6" x2="272.5" y2="294.6" stroke="#efefef" stroke-width="0.8"/>
<line x1="51" y1="305.9" x2="272.5" y2="305.9" stroke="#efefef" stroke-width="0.8"/>
<line x1="80.4" y1="206" x2="80.4" y2="309.3" stroke="#efefef" stroke-width="0.8"/>
<line x1="110.5" y1="206" x2="110.5" y2="309.3" stroke="#efefef" stroke-width="0.8"/>
<line x1="140.6" y1="206" x2="140.6" y2="309.3" stroke="#efefef" stroke-width="0.8"/>
<line x1="170.4" y1="206" x2="170.4" y2="309.3" stroke="#efefef" stroke-width="0.8"/>
<line x1="200.4" y1="206" x2="200.4" y2="309.3" stroke="#efefef" stroke-width="0.8"/>
<line x1="229.9" y1="206" x2="229.9" y2="309.3" stroke="#efefef" stroke-width="0.8"/>
<line x1="259.8" y1="206" x2="259.8" y2="309.3" stroke="#efefef" stroke-width="0.8"/>
<line x1="51" y1="271.9" x2="272.5" y2="271.9" stroke="#b8b8b8" stroke-width="1.2"/>
<line x1="49" y1="215.2" x2="51" y2="215.2" stroke="#999" stroke-width="0.6"/>
<text x="47.6" y="217.6" font-size="6.8" letter-spacing="0.35" text-anchor="end" fill="#6a6a6a">0.25</text>
<line x1="49" y1="226.6" x2="51" y2="226.6" stroke="#999" stroke-width="0.6"/>
<text x="47.6" y="229.0" font-size="6.8" letter-spacing="0.35" text-anchor="end" fill="#6a6a6a">0.20</text>
<line x1="49" y1="237.9" x2="51" y2="237.9" stroke="#999" stroke-width="0.6"/>
<text x="47.6" y="240.3" font-size="6.8" letter-spacing="0.35" text-anchor="end" fill="#6a6a6a">0.15</text>
<line x1="49" y1="249.2" x2="51" y2="249.2" stroke="#999" stroke-width="0.6"/>
<text x="47.6" y="251.6" font-size="6.8" letter-spacing="0.35" text-anchor="end" fill="#6a6a6a">0.10</text>
<line x1="49" y1="260.6" x2="51" y2="260.6" stroke="#999" stroke-width="0.6"/>
<text x="47.6" y="263.0" font-size="6.8" letter-spacing="0.35" text-anchor="end" fill="#6a6a6a">0.05</text>
<line x1="49" y1="271.9" x2="51" y2="271.9" stroke="#999" stroke-width="0.6"/>
<text x="47.6" y="274.3" font-size="6.8" letter-spacing="0.35" text-anchor="end" fill="#6a6a6a">0.00</text>
<line x1="49" y1="283.2" x2="51" y2="283.2" stroke="#999" stroke-width="0.6"/>
<text x="47.6" y="285.6" font-size="6.8" letter-spacing="0.35" text-anchor="end" fill="#6a6a6a">-0.05</text>
<line x1="49" y1="294.6" x2="51" y2="294.6" stroke="#999" stroke-width="0.6"/>
<text x="47.6" y="297.0" font-size="6.8" letter-spacing="0.35" text-anchor="end" fill="#6a6a6a">-0.10</text>
<line x1="49" y1="305.9" x2="51" y2="305.9" stroke="#999" stroke-width="0.6"/>
<text x="47.6" y="308.3" font-size="6.8" letter-spacing="0.35" text-anchor="end" fill="#6a6a6a">-0.15</text>
<text transform="translate(26.7,257.8) rotate(-90)" font-size="8" font-weight="bold" text-anchor="middle" fill="#666" textLength="92.8" lengthAdjust="spacing">Enrichment score (ES)</text>
<rect x="282.5" y="205" width="263.0" height="107.39999999999998" fill="#efefef"/>
<rect x="319.8" y="208.3" width="223.7" height="102.69999999999999" fill="#fff" stroke="#c4c4c4" stroke-width="1"/>
<line x1="319.8" y1="207.8" x2="543.5" y2="207.8" stroke="#efefef" stroke-width="0.8"/>
<line x1="319.8" y1="233.2" x2="543.5" y2="233.2" stroke="#efefef" stroke-width="0.8"/>
<line x1="319.8" y1="245.9" x2="543.5" y2="245.9" stroke="#efefef" stroke-width="0.8"/>
<line x1="319.8" y1="258.5" x2="543.5" y2="258.5" stroke="#efefef" stroke-width="0.8"/>
<line x1="319.8" y1="271.2" x2="543.5" y2="271.2" stroke="#efefef" stroke-width="0.8"/>
<line x1="319.8" y1="283.9" x2="543.5" y2="283.9" stroke="#efefef" stroke-width="0.8"/>
<line x1="319.8" y1="296.6" x2="543.5" y2="296.6" stroke="#efefef" stroke-width="0.8"/>
<line x1="319.8" y1="309.3" x2="543.5" y2="309.3" stroke="#efefef" stroke-width="0.8"/>
<line x1="350.3" y1="208.3" x2="350.3" y2="311" stroke="#efefef" stroke-width="0.8"/>
<line x1="380" y1="208.3" x2="380" y2="311" stroke="#efefef" stroke-width="0.8"/>
<line x1="409.8" y1="208.3" x2="409.8" y2="311" stroke="#efefef" stroke-width="0.8"/>
<line x1="439.8" y1="208.3" x2="439.8" y2="311" stroke="#efefef" stroke-width="0.8"/>
<line x1="470.3" y1="208.3" x2="470.3" y2="311" stroke="#efefef" stroke-width="0.8"/>
<line x1="499.6" y1="208.3" x2="499.6" y2="311" stroke="#efefef" stroke-width="0.8"/>
<line x1="529.6" y1="208.3" x2="529.6" y2="311" stroke="#efefef" stroke-width="0.8"/>
<line x1="319.8" y1="220.5" x2="543.5" y2="220.5" stroke="#b8b8b8" stroke-width="1.2"/>
<line x1="317.8" y1="207.8" x2="319.8" y2="207.8" stroke="#999" stroke-width="0.6"/>
<text x="316.5" y="210.2" font-size="6.8" letter-spacing="0.35" text-anchor="end" fill="#6a6a6a">0.05</text>
<line x1="317.8" y1="220.5" x2="319.8" y2="220.5" stroke="#999" stroke-width="0.6"/>
<text x="316.5" y="222.9" font-size="6.8" letter-spacing="0.35" text-anchor="end" fill="#6a6a6a">0.00</text>
<line x1="317.8" y1="233.2" x2="319.8" y2="233.2" stroke="#999" stroke-width="0.6"/>
<text x="316.5" y="235.6" font-size="6.8" letter-spacing="0.35" text-anchor="end" fill="#6a6a6a">-0.05</text>
<line x1="317.8" y1="245.9" x2="319.8" y2="245.9" stroke="#999" stroke-width="0.6"/>
<text x="316.5" y="248.3" font-size="6.8" letter-spacing="0.35" text-anchor="end" fill="#6a6a6a">-0.10</text>
<line x1="317.8" y1="258.5" x2="319.8" y2="258.5" stroke="#999" stroke-width="0.6"/>
<text x="316.5" y="260.9" font-size="6.8" letter-spacing="0.35" text-anchor="end" fill="#6a6a6a">-0.15</text>
<line x1="317.8" y1="271.2" x2="319.8" y2="271.2" stroke="#999" stroke-width="0.6"/>
<text x="316.5" y="273.6" font-size="6.8" letter-spacing="0.35" text-anchor="end" fill="#6a6a6a">-0.20</text>
<line x1="317.8" y1="283.9" x2="319.8" y2="283.9" stroke="#999" stroke-width="0.6"/>
<text x="316.5" y="286.3" font-size="6.8" letter-spacing="0.35" text-anchor="end" fill="#6a6a6a">-0.25</text>
<line x1="317.8" y1="296.6" x2="319.8" y2="296.6" stroke="#999" stroke-width="0.6"/>
<text x="316.5" y="299.0" font-size="6.8" letter-spacing="0.35" text-anchor="end" fill="#6a6a6a">-0.30</text>
<line x1="317.8" y1="309.3" x2="319.8" y2="309.3" stroke="#999" stroke-width="0.6"/>
<text x="316.5" y="311.7" font-size="6.8" letter-spacing="0.35" text-anchor="end" fill="#6a6a6a">-0.35</text>
<text transform="translate(296,260.5) rotate(-90)" font-size="8" font-weight="bold" text-anchor="middle" fill="#666" textLength="92.8" lengthAdjust="spacing">Enrichment score (ES)</text>
<polyline fill="none" stroke="#00ff00" stroke-width="2" stroke-linejoin="round" points="51.2,272.7 51.2,257.5 55.3,261.8 55.3,250.9 58.2,253.8 58.2,243.6 63.3,249.5 63.3,240.7 66.6,245.1 66.6,237.1 68.4,233.5 69.5,226.2 77.8,234.9 77.8,228.8 86.1,238.1 87.6,219.6 90.2,222.5 91.6,215.3 97.5,221.1 99.2,210.9 101.1,213.8 102.5,210.5 103.7,211.9 122.9,232.3 124.4,230.5 128,233.5 142.3,248.1 153.2,256.8 170.9,274.5 180.4,282.7 187.3,285.4 195,291.5 197.9,292.5 203.7,296.5 204.9,296.3 211,303.1 212.5,300.9 215.1,305 216.1,297.3 218.3,300.2 220.5,293.6 221.9,296.5 224.1,292.2 226.3,293.6 228.2,288.1 233.1,292.9 234,288.1 240.4,296.3 242.3,289.3 243.7,290.4 245.9,281.7 254.3,291.5 255.4,264.5 262.2,271.8"/>
<polyline fill="none" stroke="#00ff00" stroke-width="2" stroke-linejoin="round" points="320.2,221.4 320.5,212.3 322.1,214.3 323.7,216.4 325.3,218.6 326.7,213.7 328.2,214.9 329.8,217.9 331.3,219.7 332.9,221.7 334.0,217.7 336.2,219.9 338.0,218.7 339.8,218.9 341.6,217.7 343.4,218.1 345.3,217.6 347.1,217.7 348.6,218.1 350.1,219.5 351.6,220.5 353.5,221.4 355.3,223.5 357.1,220.5 358.7,220.0 360.4,220.6 362.0,220.1 363.7,220.8 365.3,221.0 366.9,219.4 368.5,217.7 370.1,217.7 371.6,219.2 373.1,220.8 374.7,221.2 376.2,223.2 378.0,224.2 379.9,225.0 381.7,225.2 383.5,225.9 385.0,226.1 386.5,227.7 388.0,228.6 389.6,229.6 391.2,231.6 392.8,231.5 394.4,233.2 396.2,235.1 398.0,236.7 399.8,237.6 401.6,238.6 403.4,240.7 405.2,241.3 407.1,244.2 408.9,245.0 410.4,245.9 412.0,247.5 413.5,247.7 415.0,249.6 416.5,249.6 418.0,251.4 419.6,253.4 421.1,255.2 422.7,256.1 424.2,257.2 425.8,259.4 427.3,261.8 428.9,262.7 430.4,265.0 431.9,267.4 433.4,268.2 435.0,270.8 436.5,271.5 438.0,273.9 440.0,275.7 442.0,277.7 443.9,280.3 445.9,281.6 447.5,282.5 449.0,283.9 450.6,285.7 452.1,286.8 453.7,288.4 455.7,290.0 457.6,292.5 459.6,295.3 461.1,294.3 462.6,294.3 464.6,296.7 466.5,297.7 468.4,298.3 470.4,298.3 472.4,300.9 474.3,301.7 476.3,304.2 477.9,304.0 479.6,302.3 481.2,302.2 483.2,302.6 485.1,303.1 487.1,303.2 489.1,304.1 491.0,306.1 493.0,306.7 494.9,305.0 496.9,303.2 498.9,304.3 500.9,305.1 502.9,305.9 504.8,305.5 507.7,306.7 509.7,301.2 512.6,299.2 514.6,290.4 516.6,279.6 518.5,269.8 520.0,268.4 521.5,268.2 524.0,263.9 525.4,258.0 527.4,249.2 528.4,238.4 529.9,227.6 531.9,220.3"/>
<text x="145.1" y="197" font-size="13" text-anchor="middle">Oxidative stress</text>
<text x="414" y="195" font-size="13" text-anchor="middle">Nrf2 targets</text>
<text x="54.2" y="324.6" font-size="13">PCOS</text>
<text x="227.6" y="325" font-size="13">Control</text>
<text x="323.5" y="325" font-size="13">PCOS</text>
<text x="496.8" y="325.6" font-size="13">Control</text>
<rect x="24" y="333" width="98.9" height="51.9" fill="#fcebe8"/>
<line x1="24.5" y1="333" x2="52.7" y2="325.9" stroke="#333" stroke-width="1.1" stroke-dasharray="1.4,1.6"/>
<line x1="90.9" y1="326.3" x2="122.5" y2="333" stroke="#333" stroke-width="1.1" stroke-dasharray="1.4,1.6"/>
<text transform="translate(28.0,338) rotate(90)" font-size="13">TFRC</text>
<text transform="translate(44.2,338) rotate(90)" font-size="13">ATF3</text>
<text transform="translate(60.7,338) rotate(90)" font-size="13">THRSP</text>
<text transform="translate(76.7,338) rotate(90)" font-size="13">DIO1</text>
<text transform="translate(93.8,338) rotate(90)" font-size="13">PLK3</text>
<text transform="translate(109.8,338) rotate(90)" font-size="13">DDIT3</text>
<rect x="413.3" y="332.7" width="130.7" height="67.6" fill="#e6f5fc"/>
<line x1="414.2" y1="332.7" x2="496" y2="325.6" stroke="#333" stroke-width="1.1" stroke-dasharray="1.4,1.6"/>
<line x1="538.2" y1="326.1" x2="544.8" y2="332.7" stroke="#333" stroke-width="1.1" stroke-dasharray="1.4,1.6"/>
<rect x="415.8" y="334.9" width="12.8" height="63.3" fill="none" stroke="#e04848" stroke-width="1" stroke-dasharray="1.6,1.6"/>
<rect x="432.2" y="334.9" width="12.8" height="63.3" fill="none" stroke="#e04848" stroke-width="1" stroke-dasharray="1.6,1.6"/>
<rect x="530.4" y="334.9" width="12.2" height="63.3" fill="none" stroke="#e04848" stroke-width="1" stroke-dasharray="1.6,1.6"/>
<text transform="translate(418.2,338.2) rotate(90)" font-size="13">GSTM2</text>
<text transform="translate(434.0,338.2) rotate(90)" font-size="13">MGST2</text>
<text transform="translate(450.3,338.2) rotate(90)" font-size="13">ECM1</text>
<text transform="translate(467.2,338.2) rotate(90)" font-size="13">IDH1</text>
<text transform="translate(483.6,338.2) rotate(90)" font-size="13">TGFB2</text>
<text transform="translate(498.8,338.2) rotate(90)" font-size="13">DAAM2</text>
<text transform="translate(515.8,338.2) rotate(90)" font-size="13">KLHDC8A</text>
<text transform="translate(532.2,338.2) rotate(90)" font-size="13">GSTM1</text>
<text x="97.9" y="424.3" font-size="12.5" font-weight="bold">C</text>
<text x="130.9" y="437.8" font-size="13">Oxidative stress response</text>
<text x="144" y="462.2" font-size="13" text-anchor="middle">Control</text>
<text x="144" y="478" font-size="13" text-anchor="middle">None</text>
<text x="199.8" y="462.2" font-size="13" text-anchor="middle">PCOS</text>
<text x="199.8" y="478" font-size="13" text-anchor="middle">None</text>
<text x="262" y="462.2" font-size="13" text-anchor="middle">Control</text>
<text x="262" y="478" font-size="13" text-anchor="middle">COCs</text>
<text x="318.1" y="462.2" font-size="13" text-anchor="middle">PCOS</text>
<text x="318.1" y="478" font-size="13" text-anchor="middle">COCs</text>
<rect x="120.00" y="483.60" width="12.01" height="12.01" fill="#dc6262"/>
<rect x="131.96" y="483.60" width="12.01" height="12.01" fill="#eeeef6"/>
<rect x="143.92" y="483.60" width="12.01" height="12.01" fill="#f9eaea"/>
<rect x="155.88" y="483.60" width="12.01" height="12.01" fill="#f5dada"/>
<rect x="120.00" y="495.56" width="12.01" height="12.01" fill="#eca8a8"/>
<rect x="131.96" y="495.56" width="12.01" height="12.01" fill="#c4c8e6"/>
<rect x="143.92" y="495.56" width="12.01" height="12.01" fill="#f2f2f8"/>
<rect x="155.88" y="495.56" width="12.01" height="12.01" fill="#dc5f5f"/>
<rect x="120.00" y="507.52" width="12.01" height="12.01" fill="#d84848"/>
<rect x="131.96" y="507.52" width="12.01" height="12.01" fill="#ececf6"/>
<rect x="143.92" y="507.52" width="12.01" height="12.01" fill="#f8e2e2"/>
<rect x="155.88" y="507.52" width="12.01" height="12.01" fill="#e38e8e"/>
<rect x="120.00" y="519.48" width="12.01" height="12.01" fill="#edb0b0"/>
<rect x="131.96" y="519.48" width="12.01" height="12.01" fill="#cdd0ea"/>
<rect x="143.92" y="519.48" width="12.01" height="12.01" fill="#f8e4e4"/>
<rect x="155.88" y="519.48" width="12.01" height="12.01" fill="#d64444"/>
<rect x="120.00" y="531.44" width="12.01" height="12.01" fill="#f0b8b8"/>
<rect x="131.96" y="531.44" width="12.01" height="12.01" fill="#efeff7"/>
<rect x="143.92" y="531.44" width="12.01" height="12.01" fill="#f9eded"/>
<rect x="155.88" y="531.44" width="12.01" height="12.01" fill="#d02a2a"/>
<rect x="120.00" y="543.40" width="12.01" height="12.01" fill="#d8dbee"/>
<rect x="131.96" y="543.40" width="12.01" height="12.01" fill="#8f95d0"/>
<rect x="143.92" y="543.40" width="12.01" height="12.01" fill="#f0f0f8"/>
<rect x="155.88" y="543.40" width="12.01" height="12.01" fill="#b0b5de"/>
<rect x="120.00" y="555.36" width="12.01" height="12.01" fill="#b9bee3"/>
<rect x="131.96" y="555.36" width="12.01" height="12.01" fill="#fcf8f6"/>
<rect x="143.92" y="555.36" width="12.01" height="12.01" fill="#c6cae7"/>
<rect x="155.88" y="555.36" width="12.01" height="12.01" fill="#e2e4f2"/>
<rect x="170.00" y="483.60" width="12.01" height="12.01" fill="#aeb3dc"/>
<rect x="181.96" y="483.60" width="12.01" height="12.01" fill="#ebecf6"/>
<rect x="193.92" y="483.60" width="12.01" height="12.01" fill="#6f77c4"/>
<rect x="205.88" y="483.60" width="12.01" height="12.01" fill="#aab0db"/>
<rect x="217.84" y="483.60" width="12.01" height="12.01" fill="#9fa5d6"/>
<rect x="170.00" y="495.56" width="12.01" height="12.01" fill="#eaebf5"/>
<rect x="181.96" y="495.56" width="12.01" height="12.01" fill="#e8e9f5"/>
<rect x="193.92" y="495.56" width="12.01" height="12.01" fill="#8f95cf"/>
<rect x="205.88" y="495.56" width="12.01" height="12.01" fill="#a9aedb"/>
<rect x="217.84" y="495.56" width="12.01" height="12.01" fill="#a9aedb"/>
<rect x="170.00" y="507.52" width="12.01" height="12.01" fill="#e0e2f1"/>
<rect x="181.96" y="507.52" width="12.01" height="12.01" fill="#e6e7f4"/>
<rect x="193.92" y="507.52" width="12.01" height="12.01" fill="#9ea4d6"/>
<rect x="205.88" y="507.52" width="12.01" height="12.01" fill="#fafafc"/>
<rect x="217.84" y="507.52" width="12.01" height="12.01" fill="#ccd0ea"/>
<rect x="170.00" y="519.48" width="12.01" height="12.01" fill="#c9cce8"/>
<rect x="181.96" y="519.48" width="12.01" height="12.01" fill="#d4d6ec"/>
<rect x="193.92" y="519.48" width="12.01" height="12.01" fill="#7a81c8"/>
<rect x="205.88" y="519.48" width="12.01" height="12.01" fill="#dcdef0"/>
<rect x="217.84" y="519.48" width="12.01" height="12.01" fill="#d8daee"/>
<rect x="170.00" y="531.44" width="12.01" height="12.01" fill="#c8cbe8"/>
<rect x="181.96" y="531.44" width="12.01" height="12.01" fill="#e6e7f4"/>
<rect x="193.92" y="531.44" width="12.01" height="12.01" fill="#c0c4e5"/>
<rect x="205.88" y="531.44" width="12.01" height="12.01" fill="#fbeeee"/>
<rect x="217.84" y="531.44" width="12.01" height="12.01" fill="#dfe1f1"/>
<rect x="170.00" y="543.40" width="12.01" height="12.01" fill="#fbfbfd"/>
<rect x="181.96" y="543.40" width="12.01" height="12.01" fill="#efb7b7"/>
<rect x="193.92" y="543.40" width="12.01" height="12.01" fill="#dc6262"/>
<rect x="205.88" y="543.40" width="12.01" height="12.01" fill="#eeb0b0"/>
<rect x="217.84" y="543.40" width="12.01" height="12.01" fill="#f9e6e6"/>
<rect x="170.00" y="555.36" width="12.01" height="12.01" fill="#f5cccc"/>
<rect x="181.96" y="555.36" width="12.01" height="12.01" fill="#dd6666"/>
<rect x="193.92" y="555.36" width="12.01" height="12.01" fill="#f0bcbc"/>
<rect x="205.88" y="555.36" width="12.01" height="12.01" fill="#f3c8c8"/>
<rect x="217.84" y="555.36" width="12.01" height="12.01" fill="#fcf4f4"/>
<rect x="232.00" y="483.60" width="12.01" height="12.01" fill="#ebecf6"/>
<rect x="243.96" y="483.60" width="12.01" height="12.01" fill="#cdd0ea"/>
<rect x="255.92" y="483.60" width="12.01" height="12.01" fill="#cdd0ea"/>
<rect x="267.88" y="483.60" width="12.01" height="12.01" fill="#f0b4b4"/>
<rect x="279.84" y="483.60" width="12.01" height="12.01" fill="#f2c0c0"/>
<rect x="232.00" y="495.56" width="12.01" height="12.01" fill="#e8e9f5"/>
<rect x="243.96" y="495.56" width="12.01" height="12.01" fill="#d4d6ec"/>
<rect x="255.92" y="495.56" width="12.01" height="12.01" fill="#fafafc"/>
<rect x="267.88" y="495.56" width="12.01" height="12.01" fill="#f6d4d4"/>
<rect x="279.84" y="495.56" width="12.01" height="12.01" fill="#fbeeee"/>
<rect x="232.00" y="507.52" width="12.01" height="12.01" fill="#b8bce2"/>
<rect x="243.96" y="507.52" width="12.01" height="12.01" fill="#c2c5e6"/>
<rect x="255.92" y="507.52" width="12.01" height="12.01" fill="#f2f2f8"/>
<rect x="267.88" y="507.52" width="12.01" height="12.01" fill="#f9e2e2"/>
<rect x="279.84" y="507.52" width="12.01" height="12.01" fill="#f5d2d2"/>
<rect x="232.00" y="519.48" width="12.01" height="12.01" fill="#c4c7e6"/>
<rect x="243.96" y="519.48" width="12.01" height="12.01" fill="#fbfbfd"/>
<rect x="255.92" y="519.48" width="12.01" height="12.01" fill="#d4d6ee"/>
<rect x="267.88" y="519.48" width="12.01" height="12.01" fill="#fcf7f7"/>
<rect x="279.84" y="519.48" width="12.01" height="12.01" fill="#f5cece"/>
<rect x="232.00" y="531.44" width="12.01" height="12.01" fill="#c2c5e5"/>
<rect x="243.96" y="531.44" width="12.01" height="12.01" fill="#c2c5e5"/>
<rect x="255.92" y="531.44" width="12.01" height="12.01" fill="#d5d7ed"/>
<rect x="267.88" y="531.44" width="12.01" height="12.01" fill="#f0f0f8"/>
<rect x="279.84" y="531.44" width="12.01" height="12.01" fill="#fcf4f4"/>
<rect x="232.00" y="543.40" width="12.01" height="12.01" fill="#e2e3f2"/>
<rect x="243.96" y="543.40" width="12.01" height="12.01" fill="#c8cbe8"/>
<rect x="255.92" y="543.40" width="12.01" height="12.01" fill="#e8e9f5"/>
<rect x="267.88" y="543.40" width="12.01" height="12.01" fill="#fdfdfe"/>
<rect x="279.84" y="543.40" width="12.01" height="12.01" fill="#9fa4d6"/>
<rect x="232.00" y="555.36" width="12.01" height="12.01" fill="#e5e6f3"/>
<rect x="243.96" y="555.36" width="12.01" height="12.01" fill="#d0d2eb"/>
<rect x="255.92" y="555.36" width="12.01" height="12.01" fill="#cfd1ea"/>
<rect x="267.88" y="555.36" width="12.01" height="12.01" fill="#bbbfe2"/>
<rect x="279.84" y="555.36" width="12.01" height="12.01" fill="#cdd0ea"/>
<rect x="294.00" y="483.60" width="12.01" height="12.01" fill="#f0b4b4"/>
<rect x="305.96" y="483.60" width="12.01" height="12.01" fill="#fbeeee"/>
<rect x="317.92" y="483.60" width="12.01" height="12.01" fill="#e3e4f2"/>
<rect x="329.88" y="483.60" width="12.01" height="12.01" fill="#fcfbfb"/>
<rect x="294.00" y="495.56" width="12.01" height="12.01" fill="#e48c8c"/>
<rect x="305.96" y="495.56" width="12.01" height="12.01" fill="#e3e4f2"/>
<rect x="317.92" y="495.56" width="12.01" height="12.01" fill="#d7d9ee"/>
<rect x="329.88" y="495.56" width="12.01" height="12.01" fill="#fcfbfb"/>
<rect x="294.00" y="507.52" width="12.01" height="12.01" fill="#c7cae8"/>
<rect x="305.96" y="507.52" width="12.01" height="12.01" fill="#c2c5e6"/>
<rect x="317.92" y="507.52" width="12.01" height="12.01" fill="#fdf9f9"/>
<rect x="329.88" y="507.52" width="12.01" height="12.01" fill="#d7d9ee"/>
<rect x="294.00" y="519.48" width="12.01" height="12.01" fill="#f7dada"/>
<rect x="305.96" y="519.48" width="12.01" height="12.01" fill="#dcdef0"/>
<rect x="317.92" y="519.48" width="12.01" height="12.01" fill="#dcdef0"/>
<rect x="329.88" y="519.48" width="12.01" height="12.01" fill="#fcf7f7"/>
<rect x="294.00" y="531.44" width="12.01" height="12.01" fill="#fcf4f4"/>
<rect x="305.96" y="531.44" width="12.01" height="12.01" fill="#d2d4ec"/>
<rect x="317.92" y="531.44" width="12.01" height="12.01" fill="#fbf4f4"/>
<rect x="329.88" y="531.44" width="12.01" height="12.01" fill="#c6c9e7"/>
<rect x="294.00" y="543.40" width="12.01" height="12.01" fill="#c4c7e6"/>
<rect x="305.96" y="543.40" width="12.01" height="12.01" fill="#e89a9a"/>
<rect x="317.92" y="543.40" width="12.01" height="12.01" fill="#fdfbfb"/>
<rect x="329.88" y="543.40" width="12.01" height="12.01" fill="#f2f2f8"/>
<rect x="294.00" y="555.36" width="12.01" height="12.01" fill="#d2d4ec"/>
<rect x="305.96" y="555.36" width="12.01" height="12.01" fill="#e48c8c"/>
<rect x="317.92" y="555.36" width="12.01" height="12.01" fill="#e3e4f2"/>
<rect x="329.88" y="555.36" width="12.01" height="12.01" fill="#b0b4dd"/>
<rect x="118.3" y="517.7" width="225" height="15.3" rx="2" fill="none" stroke="#e82828" stroke-width="1.5" stroke-dasharray="1.6,1.4"/>
<text x="345.6" y="493.6" font-size="10.6">SOAT1</text>
<text x="345.6" y="505.6" font-size="10.6">PDGFC</text>
<text x="345.6" y="517.5" font-size="10.6">IDH1</text>
<text x="345.6" y="529.5" font-size="10.6">MGST2</text>
<text x="345.6" y="541.4" font-size="10.6">NETO2</text>
<text x="345.6" y="553.4" font-size="10.6">PHLDA1</text>
<text x="345.6" y="565.4" font-size="10.6">MAFF</text>
<defs><linearGradient id="cb" x1="0" y1="0" x2="0" y2="1"><stop offset="0" stop-color="#c8262e"/><stop offset="0.5" stop-color="#ffffff"/><stop offset="1" stop-color="#12128a"/></linearGradient></defs>
<rect x="398.4" y="487" width="11" height="60.6" fill="url(#cb)"/>
<text x="422.4" y="494.3" font-size="10.5" text-anchor="end">3</text>
<text x="422.4" y="521.3" font-size="10.5" text-anchor="end">0</text>
<text x="422.4" y="548.3" font-size="10.5" text-anchor="end">−3</text>
</svg>
</body></html>
